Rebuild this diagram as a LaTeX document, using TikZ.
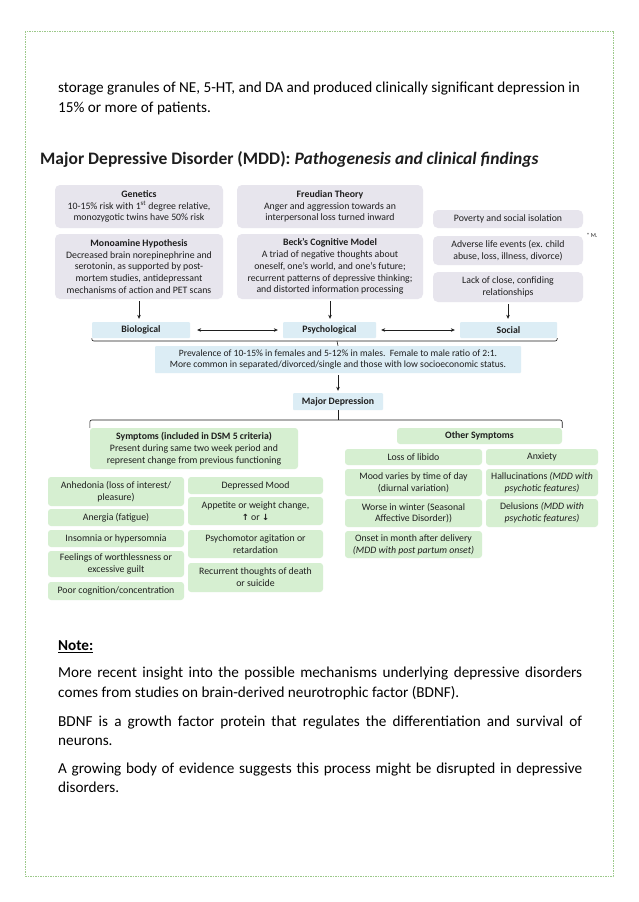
\documentclass[tikz,border=0pt]{standalone}
\usepackage{fontspec}
\setmainfont{Carlito}
\newfontfamily\dejavu{DejaVu Sans}
\usetikzlibrary{arrows.meta}
\definecolor{lav}{HTML}{E7E5ED}
\definecolor{lblue}{HTML}{DCEDF5}
\definecolor{lgreen}{HTML}{D6EFD1}
\definecolor{bordergreen}{HTML}{9CC98A}
\definecolor{txt}{HTML}{1E1E1E}
\newcommand\cornerbox[7]{\node[#2, minimum width={#5-#3}, minimum height={#6-#4}] (#1) at ({(#3+#5)/2},{(#4+#6)/2}) {#7};}
\newcommand\jline[1]{\makebox[524pt][s]{#1}}
\tikzset{
  box/.style={inner sep=0pt, align=center, text=txt, font=\fontsize{9.8}{11.8}\selectfont},
  lavbox/.style={box, fill=lav, rounded corners=5pt},
  bluebox/.style={box, fill=lblue, rounded corners=1pt},
  greenbox/.style={box, fill=lgreen, rounded corners=3pt},
  arr/.style={-{Stealth[length=4pt,width=3.6pt]}, line width=0.6pt, draw=txt},
  darr/.style={{Stealth[length=4pt,width=3.6pt]}-{Stealth[length=4pt,width=3.6pt]}, line width=0.5pt, draw=txt},
  brc/.style={line width=0.6pt, draw=txt, rounded corners=2pt},
  tline/.style={anchor=base west, inner sep=0pt, font=\fontsize{15.2}{19.6}\selectfont, text=black},
}
\begin{document}
\begin{tikzpicture}[x=1pt,y=-1pt]
\useasboundingbox (0,0) rectangle (638,902);
\fill[white] (0,0) rectangle (638,902);
\draw[bordergreen, dash pattern=on 1.5pt off 1pt, line width=0.6pt] (25,31) rectangle (613,876);

% top paragraph
\node[tline] (intro1) at (58,92) {storage granules of NE, 5-HT, and DA and produced clinically significant depression in};
\node[tline] (intro2) at (58,112) {15\% or more of patients.};

% title
\node[anchor=base west, inner sep=0pt, text=txt, font=\fontsize{17.5}{20}\selectfont\bfseries] (title) at (40,164)
  {Major Depressive Disorder (MDD): \textit{Pathogenesis and clinical findings}};

% top boxes
\cornerbox{G}{lavbox}{55}{185}{223}{228}{\textbf{Genetics}\\10-15\% risk with 1\textsuperscript{st} degree relative,\\monozygotic twins have 50\% risk}
\cornerbox{F}{lavbox}{237}{185}{423}{228}{\textbf{Freudian Theory}\\Anger and aggression towards an\\interpersonal loss turned inward}
\cornerbox{P}{lavbox}{433}{210}{583}{228}{Poverty and social isolation}
\cornerbox{M}{lavbox}{55}{234}{223}{299}{\textbf{Monoamine Hypothesis}\\Decreased brain norepinephrine and\\serotonin, as supported by post-\\mortem studies, antidepressant\\mechanisms of action and PET scans}
\cornerbox{B}{lavbox}{237}{234}{423}{299}{\textbf{Beck's Cognitive Model}\\A triad of negative thoughts about\\oneself, one's world, and one's future;\\recurrent patterns of depressive thinking;\\and distorted information processing}
\cornerbox{A}{lavbox}{433}{236}{583}{265}{Adverse life events (ex. child\\abuse, loss, illness, divorce)}
\cornerbox{L}{lavbox}{433}{272}{583}{302}{Lack of close, confiding\\relationships}
\node[inner sep=0pt, font=\fontsize{6}{7}\selectfont, text=txt] (star) at (592,235) {* M.};

% level boxes
\cornerbox{Bio}{bluebox}{92}{322}{190}{338}{\textbf{Biological}}
\cornerbox{Psy}{bluebox}{283}{322}{376}{338}{\textbf{Psychological}}
\cornerbox{Soc}{bluebox}{460}{322}{557}{338}{\textbf{Social}}

\draw[arr, shorten <=2pt, shorten >=3pt] (M.south) -- (M.south |- Bio.north);
\draw[arr, shorten <=2pt, shorten >=3pt] (B.south) -- (B.south |- Psy.north);
\draw[arr, shorten <=2pt, shorten >=3pt] (L.south) -- (L.south |- Soc.north);
\draw[darr, shorten <=7pt, shorten >=5pt] (Bio.east) -- (Psy.west);
\draw[darr, shorten <=5pt, shorten >=5pt] (Psy.east) -- (Soc.west);

\cornerbox{Prev}{bluebox}{155}{346}{521}{373}{\fontsize{9.6}{11.8}\selectfont Prevalence of 10-15\% in females and 5-12\% in males.\ \ Female to male ratio of 2:1.\\\fontsize{9.6}{11.8}\selectfont More common in separated/divorced/single and those with low socioeconomic status.}
\coordinate (b1) at (337,341);
\draw[brc] (Bio.south west) |- (b1) -| (Soc.south east);
\draw[line width=0.6pt, draw=txt] (b1) -- (Prev.north);

\cornerbox{MD}{bluebox}{293}{393}{383}{410}{\textbf{Major Depression}}
\draw[arr, shorten <=2pt, shorten >=2pt] (Prev.south) -- (Prev.south |- MD.north);

% symptoms
\cornerbox{SH}{greenbox}{90}{428}{298}{469}{\textbf{Symptoms (included in DSM 5 criteria)}\\Present during same two week period and\\represent change from previous functioning}
\cornerbox{OH}{greenbox}{397}{428}{562}{444}{\textbf{Other Symptoms}}
\coordinate (b2) at (338,420);
\draw[line width=0.6pt, draw=txt] (MD.south) -- (b2);
\draw[brc] (SH.north west) |- (b2) -| (OH.north east);

\cornerbox{Anh}{greenbox}{48}{477}{184}{506}{Anhedonia (loss of interest/\\pleasure)}
\cornerbox{Ane}{greenbox}{48}{509}{184}{526}{Anergia (fatigue)}
\cornerbox{Ins}{greenbox}{48}{530}{184}{547}{Insomnia or hypersomnia}
\cornerbox{Fee}{greenbox}{48}{551}{184}{577}{Feelings of worthlessness or\\excessive guilt}
\cornerbox{Poo}{greenbox}{48}{582}{184}{600}{Poor cognition/concentration}

\cornerbox{Dep}{greenbox}{188}{477}{323}{494}{Depressed Mood}
\cornerbox{App}{greenbox}{188}{497}{323}{525}{Appetite or weight change,\\{\dejavu\bfseries\fontsize{8.5}{10}\selectfont ↑} or {\dejavu\bfseries\fontsize{8.5}{10}\selectfont ↓}}
\cornerbox{PsyM}{greenbox}{188}{530}{323}{558}{Psychomotor agitation or\\retardation}
\cornerbox{Rec}{greenbox}{188}{563}{323}{592}{Recurrent thoughts of death\\or suicide}

\cornerbox{Lib}{greenbox}{345}{449}{482}{465}{Loss of libido}
\cornerbox{Moo}{greenbox}{345}{469}{482}{496}{Mood varies by time of day\\(diurnal variation)}
\cornerbox{Win}{greenbox}{345}{499}{482}{527}{Worse in winter (Seasonal\\Affective Disorder))}
\cornerbox{Ons}{greenbox}{345}{531}{482}{558}{Onset in month after delivery\\\textit{(MDD with post partum onset)}}
\cornerbox{Anx}{greenbox}{486}{449}{598}{465}{Anxiety}
\cornerbox{Hal}{greenbox}{486}{469}{598}{496}{Hallucinations \textit{(MDD with}\\\textit{psychotic features)}}
\cornerbox{Del}{greenbox}{486}{499}{598}{527}{Delusions \textit{(MDD with}\\\textit{psychotic features)}}

% note
\node[tline, font=\fontsize{15.2}{19.6}\selectfont\bfseries] (note) at (58,650.5) {\underline{Note:}};
\node[tline] (p1a) at (58,677.7) {\jline{More recent insight into the possible mechanisms underlying depressive disorders}};
\node[tline] (p1b) at (58,697.3) {comes from studies on brain-derived neurotrophic factor (BDNF).};
\node[tline] (p2a) at (58,726) {\jline{BDNF is a growth factor protein that regulates the differentiation and survival of}};
\node[tline] (p2b) at (58,745.6) {neurons.};
\node[tline] (p3a) at (58,773) {\jline{A growing body of evidence suggests this process might be disrupted in depressive}};
\node[tline] (p3b) at (58,792.6) {disorders.};
\end{tikzpicture}
\end{document}
